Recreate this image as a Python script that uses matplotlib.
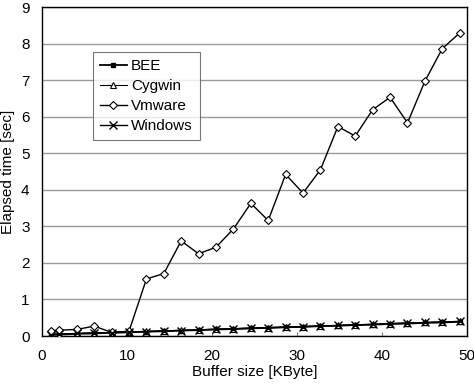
import matplotlib
matplotlib.use("Agg")
import matplotlib.pyplot as plt

# buffer sizes (KByte)
buf = [1.02, 2.05, 4.10, 6.14, 8.19, 10.24, 12.29, 14.34, 16.38, 18.43,
       20.48, 22.53, 24.58, 26.62, 28.67, 30.72, 32.77, 34.82, 36.86, 38.91,
       40.96, 43.01, 45.06, 47.10, 49.15]

bee = [0.03, 0.04, 0.06, 0.07, 0.09, 0.10, 0.12, 0.13, 0.15, 0.16,
       0.18, 0.19, 0.21, 0.22, 0.24, 0.25, 0.27, 0.28, 0.30, 0.31,
       0.33, 0.34, 0.36, 0.37, 0.39]
cygwin = [0.05, 0.06, 0.07, 0.09, 0.10, 0.11, 0.13, 0.14, 0.16, 0.17,
          0.19, 0.20, 0.22, 0.23, 0.25, 0.26, 0.28, 0.29, 0.31, 0.32,
          0.34, 0.36, 0.37, 0.39, 0.40]
vmware = [0.14, 0.16, 0.18, 0.27, 0.10, 0.13, 1.56, 1.71, 2.60, 2.25,
          2.43, 2.93, 3.63, 3.16, 4.42, 3.91, 4.55, 5.73, 5.47, 6.19,
          6.53, 5.83, 6.97, 7.86, 8.29]
windows = [0.04, 0.05, 0.07, 0.08, 0.09, 0.11, 0.12, 0.14, 0.15, 0.17,
           0.18, 0.20, 0.21, 0.23, 0.24, 0.26, 0.27, 0.29, 0.30, 0.32,
           0.34, 0.35, 0.37, 0.38, 0.40]

plt.rcParams['font.family'] = ['Liberation Sans', 'DejaVu Sans']

fig = plt.figure(figsize=(4.74, 3.89), dpi=100)
ax = fig.add_axes([0.0886, 0.1362, 0.8964, 0.8458])

ax.plot(buf, bee, color='black', lw=1.3, marker='s', ms=3.5,
        mfc='black', mec='black', label='BEE', zorder=3)
ax.plot(buf, cygwin, color='black', lw=0.8, marker='^', ms=5,
        mfc='white', mec='black', mew=0.8, label='Cygwin', zorder=3)
ax.plot(buf, vmware, color='black', lw=1.0, marker='D', ms=4.5,
        mfc='white', mec='black', mew=0.8, label='Vmware', zorder=3)
ax.plot(buf, windows, color='black', lw=1.0, marker='x', ms=6,
        mec='black', mew=1.0, label='Windows', zorder=4)

ax.set_xlim(0, 50)
ax.set_ylim(0, 9)
ax.set_xticks([0, 10, 20, 30, 40, 50])
ax.set_yticks(range(0, 10))
ax.yaxis.grid(True, color='#9a9a9a', lw=1.0)
ax.set_axisbelow(True)
for s in ax.spines.values():
    s.set_color('black')
    s.set_linewidth(1.0)
ax.tick_params(axis='x', direction='in', length=3, width=0.8,
               labelsize=11, pad=9, color='#777777')
ax.tick_params(axis='y', length=0, labelsize=11, pad=9)

ax.set_xlabel('Buffer size [KByte]', fontsize=11, labelpad=2)
ax.set_ylabel('Elapsed time [sec]', fontsize=11, labelpad=4)

leg = ax.legend(loc='upper left', bbox_to_anchor=(0.12, 0.863),
                fontsize=11, frameon=True, fancybox=False,
                edgecolor='#555555', handlelength=1.75, handletextpad=0.3,
                borderpad=0.45, labelspacing=0.4, borderaxespad=0)
leg.get_frame().set_linewidth(0.8)

fig.savefig('out.png', dpi=100)
